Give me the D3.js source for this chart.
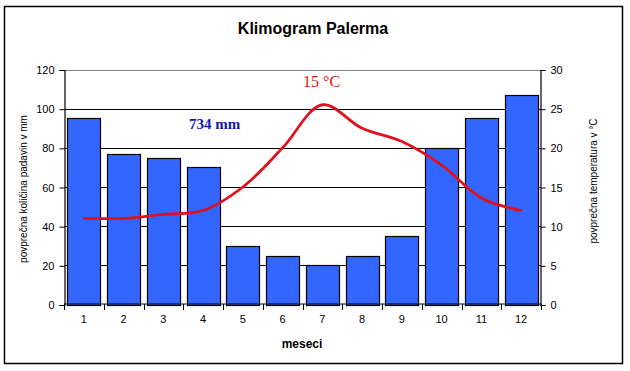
<!DOCTYPE html>
<html>
<head>
<meta charset="utf-8">
<script src="https://cdn.jsdelivr.net/npm/d3@7"></script>
<style>
  body { margin: 0; background: #fff; }
</style>
</head>
<body>
<div id="chart"></div>
<script>
// data
var months = ["1", "2", "3", "4", "5", "6", "7", "8", "9", "10", "11", "12"];
var padavine = [95, 77, 75, 70, 30, 25, 20, 25, 35, 80, 95, 107];
var temperatura = [11, 11, 11.5, 12, 15, 20, 25.5, 22.5, 20.8, 17.8, 13.6, 12];
var leftTicks = [0, 20, 40, 60, 80, 100, 120];
var rightTicks = [0, 5, 10, 15, 20, 25, 30];

var sans = "Arial, 'Liberation Sans', sans-serif";
var serif = "'Liberation Serif', 'Times New Roman', serif";

var W = 630, H = 371;
var pLeft = 64, pRight = 541, pTop = 69.5, pBottom = 304.5;

var svg = d3.select("#chart").append("svg")
    .attr("width", W)
    .attr("height", H)
    .attr("font-family", sans);

// outer frame
svg.append("rect")
    .attr("x", 4.5).attr("y", 6.5)
    .attr("width", 618).attr("height", 357)
    .attr("fill", "#fff")
    .attr("stroke", "#000")
    .attr("stroke-width", 1.5);

var x = d3.scaleBand()
    .domain(months)
    .range([pLeft, pRight])
    .paddingInner(0.17)
    .paddingOuter(0.085);

var y = d3.scaleLinear().domain([0, 120]).range([pBottom, pTop]);
var y2 = d3.scaleLinear().domain([0, 30]).range([pBottom, pTop]);

// gridlines
svg.append("g")
  .selectAll("line")
    .data(leftTicks.slice(1))
  .enter().append("line")
    .attr("x1", pLeft).attr("x2", pRight)
    .attr("y1", function(d) { return Math.round(y(d)) + 0.5; })
    .attr("y2", function(d) { return Math.round(y(d)) + 0.5; })
    .attr("stroke", function(d) { return d == 120 ? "#888" : "#000"; })
    .attr("stroke-width", 1);

// bars
svg.selectAll(".bar")
    .data(padavine)
  .enter().append("rect")
    .attr("class", "bar")
    .attr("x", function(d, i) { return Math.round(x(months[i])) + 0.5; })
    .attr("y", function(d) { return Math.round(y(d)) + 0.5; })
    .attr("width", Math.round(x.bandwidth()))
    .attr("height", function(d) { return Math.round(pBottom) - Math.round(y(d)); })
    .attr("fill", "#3366ff")
    .attr("stroke", "#000")
    .attr("stroke-width", 1.2);

// temperature line
var line = d3.line()
    .x(function(d, i) { return x(months[i]) + x.bandwidth() / 2; })
    .y(function(d) { return y2(d); })
    .curve(d3.curveCatmullRom.alpha(0.5));

svg.append("path")
    .datum(temperatura)
    .attr("d", line)
    .attr("fill", "none")
    .attr("stroke", "#e0101e")
    .attr("stroke-width", 2.8)
    .attr("stroke-linecap", "round");

// axes
var yAxis = d3.axisLeft(y).tickValues(leftTicks).tickSize(5).tickPadding(5);
var yAxis2 = d3.axisRight(y2).tickValues(rightTicks).tickSize(5).tickPadding(5);
var xAxis = d3.axisBottom(x).tickSize(0).tickPadding(11);

var gl = svg.append("g")
    .attr("transform", "translate(" + (pLeft + 0.5) + ",0.5)")
    .call(yAxis);
var gr = svg.append("g")
    .attr("transform", "translate(" + (pRight - 0.5) + ",0.5)")
    .call(yAxis2);
var gx = svg.append("g")
    .attr("transform", "translate(0," + (pBottom - 0.5) + ")")
    .call(xAxis);

[gl, gr, gx].forEach(function(g) {
  g.select(".domain").attr("stroke", "#000").attr("stroke-width", 1.2);
  g.selectAll(".tick line").attr("stroke", "#000");
  g.selectAll("text")
      .attr("font-family", sans)
      .attr("font-size", 11)
      .attr("fill", "#000");
});
gx.select(".domain").attr("d", "M" + pLeft + ",0H" + pRight);

// x ticks between categories
gx.selectAll(".sep")
    .data(d3.range(months.length + 1))
  .enter().append("line")
    .attr("class", "sep")
    .attr("x1", function(i) { return Math.round(pLeft + i * x.step()) + 0.5; })
    .attr("x2", function(i) { return Math.round(pLeft + i * x.step()) + 0.5; })
    .attr("y1", 0).attr("y2", 6)
    .attr("stroke", "#000");

// title
svg.append("text")
    .attr("x", 313).attr("y", 34)
    .attr("text-anchor", "middle")
    .attr("font-size", 16)
    .attr("font-weight", "bold")
    .text("Klimogram Palerma");

// axis labels
svg.append("text")
    .attr("x", 302).attr("y", 348)
    .attr("text-anchor", "middle")
    .attr("font-size", 12)
    .attr("font-weight", "bold")
    .text("meseci");

svg.append("text")
    .attr("transform", "translate(27,189) rotate(-90)")
    .attr("text-anchor", "middle")
    .attr("font-size", 10)
    .text("povprečna količina padavin v mm");

svg.append("text")
    .attr("transform", "translate(597,181) rotate(-90)")
    .attr("text-anchor", "middle")
    .attr("font-size", 10)
    .text("povprečna temperatura v °C");

// annotations
svg.append("text")
    .attr("x", 189).attr("y", 129)
    .attr("font-family", serif)
    .attr("font-size", 15)
    .attr("font-weight", "bold")
    .attr("fill", "#1515b0")
    .text(d3.sum(padavine) + " mm");

svg.append("text")
    .attr("x", 303).attr("y", 87)
    .attr("font-family", serif)
    .attr("font-size", 16)
    .attr("fill", "#dd1111")
    .text("15 °C");
</script>
</body>
</html>
